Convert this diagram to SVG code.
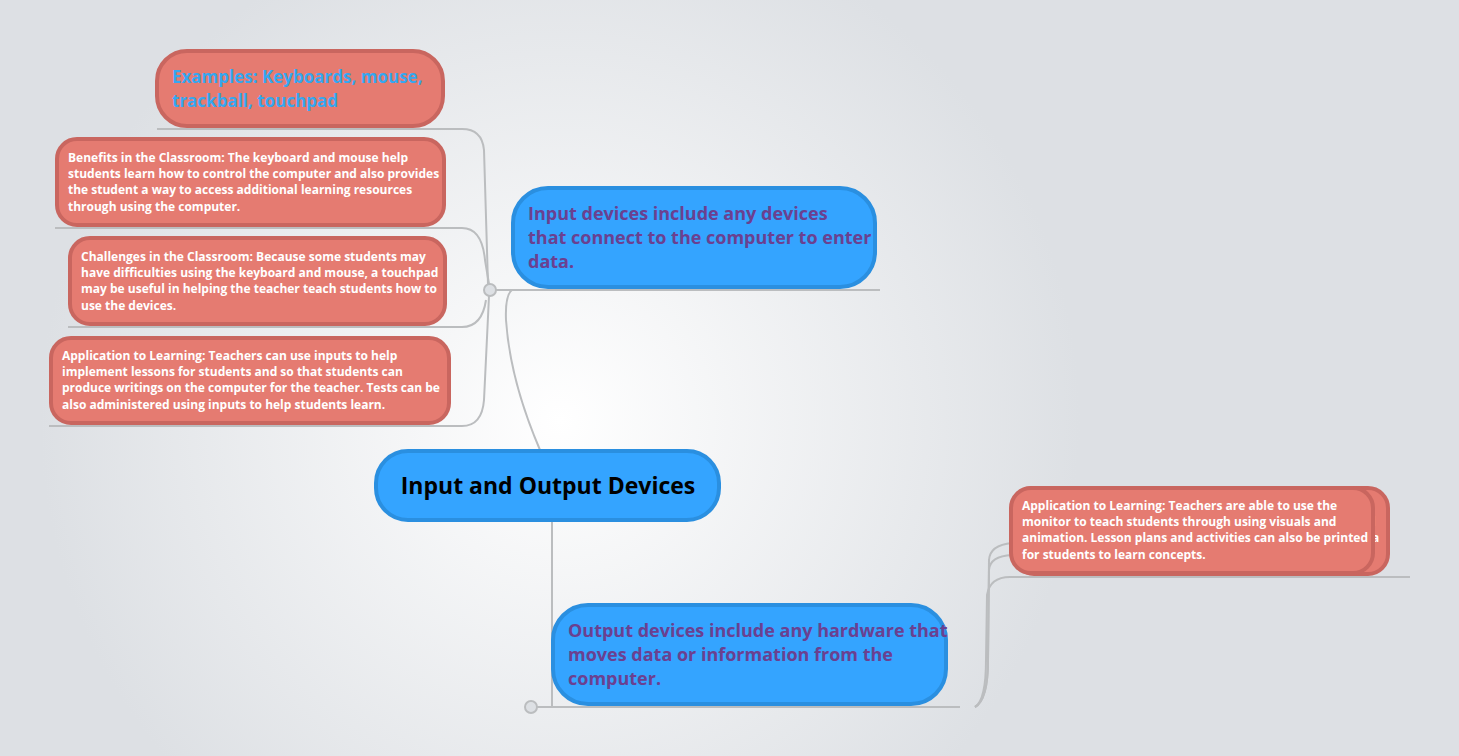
<svg xmlns="http://www.w3.org/2000/svg" width="1459" height="756" viewBox="0 0 1459 756">
<defs>
<radialGradient id="bg" cx="560" cy="420" r="520" gradientUnits="userSpaceOnUse">
<stop offset="0" stop-color="#ffffff"/><stop offset="1" stop-color="#dde0e4"/>
</radialGradient>
<style>
.sub{fill:#e57b71;stroke:#c9665f;stroke-width:4}
.main{fill:#34a4ff;stroke:#2a8fe0;stroke-width:4}
.st{font-family:"Open Sans","Liberation Sans",sans-serif;font-weight:bold;font-size:12px;fill:#fff}
.mt{font-family:"Open Sans","Liberation Sans",sans-serif;font-weight:bold;font-size:18px;fill:#6b4090}
.ln{fill:none;stroke:#bbbdbf;stroke-width:2}
</style>
</defs>
<rect width="1459" height="756" fill="url(#bg)"/>
<g id="connectors" class="ln">
<path d="M157 129 H462 Q482 129 484 150 L488 284"/>
<path d="M55 228 H462 Q482 228 485 260 L489 284"/>
<path d="M68 327 H462 Q482 327 486 300"/>
<path d="M49 426 H462 Q482 426 484 400 L489 296"/>
<path d="M496 290 H880"/>
<path d="M540 450 Q510 380 506 320 Q505 295 512 290"/>
<path d="M552 520 V707"/>
<path d="M537 707 H960"/>
<path d="M975 707 Q988 700 988 660 L989 560 Q990 545 1012 543"/>
<path d="M975 707 Q988 700 988 660 L989 570 Q990 556 1012 555"/>
<path d="M975 707 Q986 700 986 660 L987 595 Q990 577 1010 577 H1410"/>
<circle cx="490" cy="290" r="6" fill="#dde0e4"/>
<circle cx="531" cy="707" r="6" fill="#dde0e4"/>
</g>
<g id="examples"><rect class="sub" x="157" y="51" width="286" height="75" rx="30"/>
<text font-family="Open Sans,Liberation Sans,sans-serif" font-weight="bold" font-size="17" fill="#35a7f0"><tspan x="172" y="83">Examples: Keyboards, mouse,</tspan><tspan x="172" y="107">trackball, touchpad</tspan></text></g>
<g id="benefits"><rect class="sub" x="57" y="139" width="387" height="86" rx="20"/>
<text class="st"><tspan x="68" y="162">Benefits in the Classroom: The keyboard and mouse help</tspan><tspan x="68" y="178">students learn how to control the computer and also provides</tspan><tspan x="68" y="194">the student a way to access additional learning resources</tspan><tspan x="68" y="211">through using the computer.</tspan></text></g>
<g id="challenges"><rect class="sub" x="70" y="238" width="375" height="86" rx="20"/>
<text class="st"><tspan x="81" y="261">Challenges in the Classroom: Because some students may</tspan><tspan x="81" y="277">have difficulties using the keyboard and mouse, a touchpad</tspan><tspan x="81" y="293">may be useful in helping the teacher teach students how to</tspan><tspan x="81" y="310">use the devices.</tspan></text></g>
<g id="application-input"><rect class="sub" x="51" y="338" width="398" height="85" rx="20"/>
<text class="st"><tspan x="62" y="360">Application to Learning: Teachers can use inputs to help</tspan><tspan x="62" y="376">implement lessons for students and so that students can</tspan><tspan x="62" y="392">produce writings on the computer for the teacher. Tests can be</tspan><tspan x="62" y="409">also administered using inputs to help students learn.</tspan></text></g>
<g id="input"><rect class="main" x="513" y="188" width="362" height="99" rx="35"/>
<text class="mt"><tspan x="528" y="220">Input devices include any devices</tspan><tspan x="528" y="244">that connect to the computer to enter</tspan><tspan x="528" y="268">data.</tspan></text></g>
<g id="root"><rect class="main" x="376" y="451" width="343" height="69" rx="32"/>
<text x="548" y="494" text-anchor="middle" font-family="Open Sans,Liberation Sans,sans-serif" font-weight="bold" font-size="23" fill="#000">Input and Output Devices</text></g>
<g id="output"><rect class="main" x="553" y="605" width="393" height="99" rx="35"/>
<text class="mt"><tspan x="568" y="637">Output devices include any hardware that</tspan><tspan x="568" y="661">moves data or information from the</tspan><tspan x="568" y="685">computer.</tspan></text></g>
<g id="output-hidden"><rect class="sub" x="1014" y="488" width="374" height="86" rx="20"/>
<text class="st"><tspan x="1372" y="526">l</tspan><tspan x="1372" y="542">a</tspan></text></g>
<g id="application-output"><rect class="sub" x="1011" y="488" width="362" height="85" rx="20"/>
<text class="st"><tspan x="1022" y="510">Application to Learning: Teachers are able to use the</tspan><tspan x="1022" y="526">monitor to teach students through using visuals and</tspan><tspan x="1022" y="542">animation. Lesson plans and activities can also be printed</tspan><tspan x="1022" y="559">for students to learn concepts.</tspan></text></g>
</svg>
